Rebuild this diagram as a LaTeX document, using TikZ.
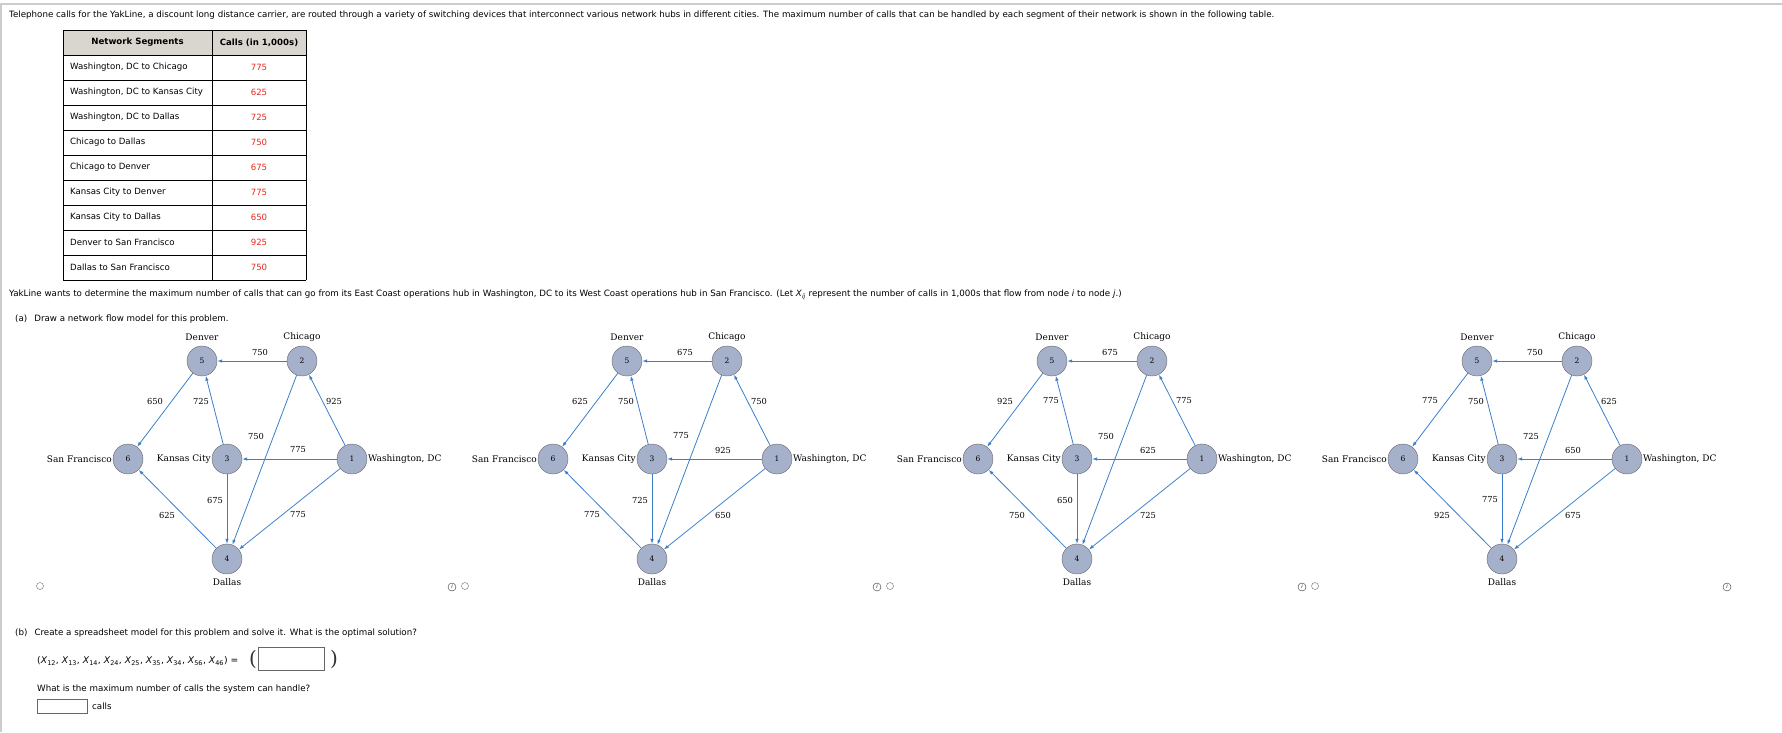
\documentclass[tikz,border=0pt]{standalone}
\usepackage{fontspec}
\setmainfont{DejaVu Sans}
\newfontfamily\serifd{DejaVu Serif}
\usetikzlibrary{arrows.meta}
\definecolor{edgeblue}{HTML}{3B7FCB}
\definecolor{nodefill}{HTML}{A5B0CA}
\definecolor{hdr}{HTML}{D9D5CF}
\definecolor{valred}{HTML}{E8281E}
\tikzset{
  txt/.style={font=\fontsize{8.7}{10}\selectfont, inner sep=0pt, anchor=west},
  ttxt/.style={font=\fontsize{8.6}{10}\selectfont, inner sep=0pt, anchor=west},
  hub/.style={circle, draw=black!60, fill=nodefill, minimum size=30pt, inner sep=0pt, font=\serifd\fontsize{7.5}{9}\selectfont},
  city/.style={font=\serifd\fontsize{9}{11}\selectfont, inner sep=0pt},
  elab/.style={font=\serifd\fontsize{8.3}{10}\selectfont, inner sep=0pt},
  flow/.style={draw=edgeblue, line width=0.8pt, -{Latex[length=5pt,width=3.5pt]}},
  cell/.style={draw=black, line width=0.8pt},
  radio/.style={circle, draw=black!60, minimum size=7pt, inner sep=0pt},
  infoic/.style={circle, draw=black!80, minimum size=8pt, inner sep=0pt, font=\fontsize{5}{5}\selectfont\itshape},
  ansbox/.style={draw=black!60, inner sep=0pt, anchor=north west}
}
\begin{document}
\begin{tikzpicture}[x=1pt,y=-1pt]
\useasboundingbox (0,0) rectangle (1782,732);
\draw[black!20, line width=1.5pt] (1,732) -- (1,4) -- (1782,4);
\node[txt] (intro) at (9,15) {Telephone calls for the YakLine, a discount long distance carrier, are routed through a variety of switching devices that interconnect various network hubs in different cities. The maximum number of calls that can be handled by each segment of their network is shown in the following table.};
% table
\fill[hdr] (63,30) rectangle (306,55);
\foreach \y in {30,55,80,105,130,155,180,205,230,255,280} \draw[cell] (63,\y) -- (306,\y);
\draw[cell] (63,30) -- (63,280);
\draw[cell] (212,30) -- (212,280);
\draw[cell] (306,30) -- (306,280);
\node[ttxt, anchor=center, font=\fontsize{8.6}{10}\selectfont\bfseries] (h1) at (137.5,42.5) {Network Segments};
\node[ttxt, anchor=center, font=\fontsize{8.6}{10}\selectfont\bfseries] (h2) at (259,42.5) {Calls (in 1,000s)};
\foreach \i/\s/\v in {0/{Washington, DC to Chicago}/775, 1/{Washington, DC to Kansas City}/625, 2/{Washington, DC to Dallas}/725, 3/Chicago to Dallas/750, 4/Chicago to Denver/675, 5/Kansas City to Denver/775, 6/Kansas City to Dallas/650, 7/Denver to San Francisco/925, 8/Dallas to San Francisco/750} {
  \node[ttxt] (r\i) at (70,{67.5+25*\i}) {\s};
  \node[ttxt, anchor=center, text=valred] (v\i) at (259,{67.5+25*\i}) {\v};
}
\node[txt] (yak) at (9,295) {YakLine wants to determine the maximum number of calls that can go from its East Coast operations hub in Washington, DC to its West Coast operations hub in San Francisco. (Let \textit{X}\textsubscript{\textit{ij}} represent the number of calls in 1,000s that flow from node \textit{i} to node \textit{j}.)};
\node[txt] (pa) at (15,319) {(a)\hspace{7pt}Draw a network flow model for this problem.};
% diagrams
\foreach \k/\ea/\eb/\ec/\ed/\ee/\ef/\eg/\eh/\ei in {
 0/750/650/725/925/750/775/675/625/775,
 1/675/625/750/750/775/925/725/775/650,
 2/675/925/775/775/750/625/650/750/725,
 3/750/775/750/625/725/650/775/925/675} {
 \begin{scope}[xshift={425*\k}]
  \node[hub] (d\k n5) at (202,361) {5};
  \node[hub] (d\k n2) at (302,361) {2};
  \node[hub] (d\k n6) at (128,459) {6};
  \node[hub] (d\k n3) at (227,459) {3};
  \node[hub] (d\k n1) at (352,459) {1};
  \node[hub] (d\k n4) at (227,559) {4};
  \node[city] (d\k c5) at (202,337) {Denver};
  \node[city] (d\k c2) at (302,337) {Chicago};
  \node[city] (d\k c4) at (227,582) {Dallas};
  \node[city, anchor=east] (d\k c6) at (112,459) {San Francisco};
  \node[city, anchor=east] (d\k c3) at (211,459) {Kansas City};
  \node[city, anchor=west] (d\k c1) at (368,459) {Washington, DC};
  \draw[flow] (d\k n2) -- (d\k n5);
  \draw[flow] (d\k n5) -- (d\k n6);
  \draw[flow] (d\k n3) -- (d\k n5);
  \draw[flow] (d\k n1) -- (d\k n2);
  \draw[flow] (d\k n2) -- (d\k n4);
  \draw[flow] (d\k n1) -- (d\k n3);
  \draw[flow] (d\k n3) -- (d\k n4);
  \draw[flow] (d\k n4) -- (d\k n6);
  \draw[flow] (d\k n1) -- (d\k n4);
  \node[elab] (d\k la) at (260,352) {\ea};
  \node[elab] (d\k lb) at (155,401) {\eb};
  \node[elab] (d\k lc) at (201,401) {\ec};
  \node[elab] (d\k ld) at (334,401) {\ed};
  \node[elab] (d\k le) at (256,436) {\ee};
  \node[elab] (d\k lf) at (298,450) {\ef};
  \node[elab] (d\k lg) at (215,500) {\eg};
  \node[elab] (d\k lh) at (167,515) {\eh};
  \node[elab] (d\k li) at (298,515) {\ei};
  \node[radio] (d\k r) at (40,586) {};
  \node[infoic] (d\k i) at (452,587) {i};
 \end{scope}
}
% part b
\node[txt] (pb) at (15,633) {(b)\hspace{7pt}Create a spreadsheet model for this problem and solve it. What is the optimal solution?};
\node[txt, font=\fontsize{9.2}{10}\selectfont] (form) at (37,661) {(\textit{X}\textsubscript{12}, \textit{X}\textsubscript{13}, \textit{X}\textsubscript{14}, \textit{X}\textsubscript{24}, \textit{X}\textsubscript{25}, \textit{X}\textsubscript{35}, \textit{X}\textsubscript{34}, \textit{X}\textsubscript{56}, \textit{X}\textsubscript{46}) =};
\node[inner sep=0pt, font=\fontsize{20}{20}\selectfont\serifd, text=black!80] (lp) at (253,659) {(};
\node[ansbox, minimum width=66pt, minimum height=23pt] (b1) at (258,647) {};
\node[inner sep=0pt, font=\fontsize{20}{20}\selectfont\serifd, text=black!80] (rp) at (334,659) {)};
\node[txt] (q2) at (37,689) {What is the maximum number of calls the system can handle?};
\node[ansbox, minimum width=50pt, minimum height=14pt] (b2) at (37,699) {};
\node[txt] (calls) at (92,706) {calls};
\end{tikzpicture}
\end{document}
